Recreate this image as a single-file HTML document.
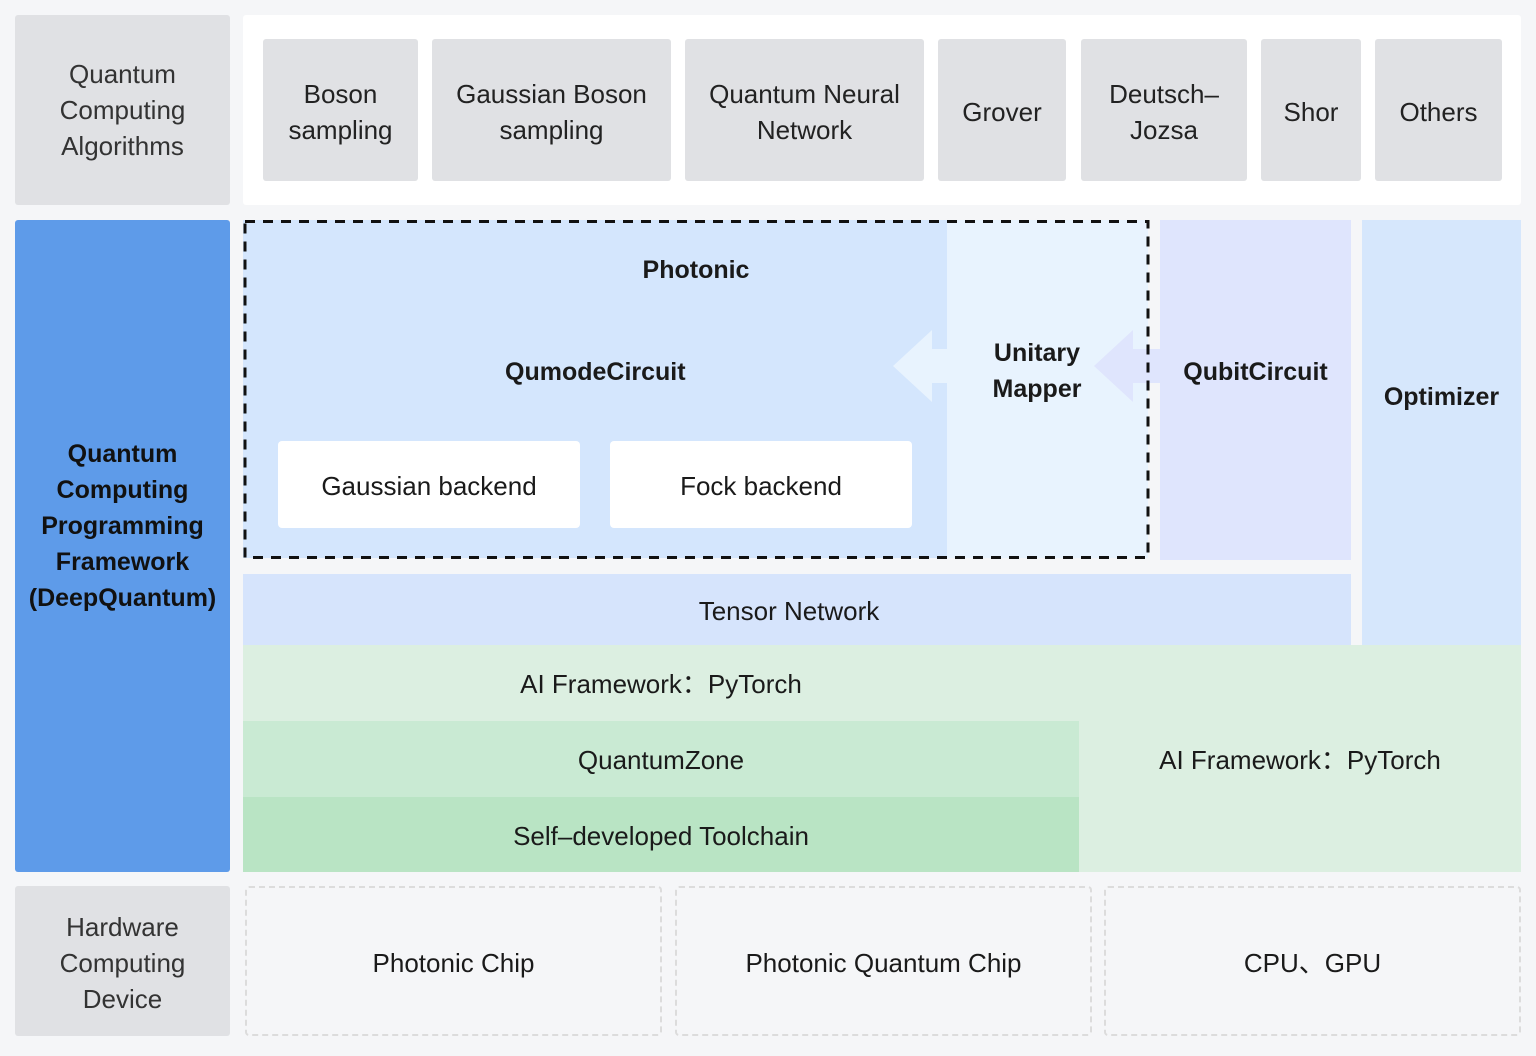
<!DOCTYPE html>
<html><head><meta charset="utf-8"><style>
body{margin:0;width:1536px;height:1056px;background:#f5f6f8;position:relative;overflow:hidden;font-family:"Liberation Sans","Noto Sans CJK SC",sans-serif;color:#1a1a1a}
.b{position:absolute;display:flex;align-items:center;justify-content:center;text-align:center;font-size:26px;line-height:36px;box-sizing:border-box}
.g{background:#e0e1e4;border-radius:3px;color:#222}
.w{background:#fff;border-radius:4px}
.bold{font-weight:bold;font-size:25px}
.d{border:2px dashed #dcdcdc;border-radius:4px}
</style></head><body>
<div class="b g" style="left:15px;top:15px;width:215px;height:190px;color:#333">Quantum<br>Computing<br>Algorithms</div>
<div class="b" style="left:243px;top:15px;width:1278px;height:190px;background:#fff;border-radius:3px"></div>
<div class="b g" style="left:263px;top:39px;width:155px;height:142px;padding-top:4px">Boson<br>sampling</div>
<div class="b g" style="left:432px;top:39px;width:239px;height:142px;padding-top:4px">Gaussian Boson<br>sampling</div>
<div class="b g" style="left:685px;top:39px;width:239px;height:142px;padding-top:4px">Quantum Neural<br>Network</div>
<div class="b g" style="left:938px;top:39px;width:128px;height:142px;padding-top:4px">Grover</div>
<div class="b g" style="left:1081px;top:39px;width:166px;height:142px;padding-top:4px">Deutsch–<br>Jozsa</div>
<div class="b g" style="left:1261px;top:39px;width:100px;height:142px;padding-top:4px">Shor</div>
<div class="b g" style="left:1375px;top:39px;width:127px;height:142px;padding-top:4px">Others</div>

<div class="b bold" style="left:15px;top:220px;width:215px;height:652px;background:#5e9be9;border-radius:3px;color:#111;padding-bottom:40px">Quantum<br>Computing<br>Programming<br>Framework<br>(DeepQuantum)</div>

<div class="b" style="left:243px;top:220px;width:704px;height:338px;background:#d4e6fd"></div>
<div class="b" style="left:947px;top:220px;width:201px;height:338px;background:#e8f3fe"></div>
<div class="b bold" style="left:243px;top:250px;width:906px;height:40px">Photonic</div>
<div class="b bold" style="left:243px;top:352px;width:704px;height:40px;justify-content:flex-start;padding-left:262px">QumodeCircuit</div>
<div class="b bold" style="left:947px;top:335px;width:180px;height:72px">Unitary<br>Mapper</div>
<svg style="position:absolute;left:0;top:0" width="1536" height="1056">
<polygon points="893,366 932,330 932,349 947,349 947,383 932,383 932,402" fill="#e8f3fe"/>
<polygon points="1094,366 1133,330 1133,349 1160,349 1160,383 1133,383 1133,402" fill="#dfe5fd"/>
<rect x="245" y="221.5" width="903" height="336" fill="none" stroke="#111" stroke-width="3" stroke-dasharray="10,8"/>
</svg>
<div class="b w" style="left:278px;top:441px;width:302px;height:87px;padding-top:2px">Gaussian backend</div>
<div class="b w" style="left:610px;top:441px;width:302px;height:87px;padding-top:2px">Fock backend</div>
<div class="b bold" style="left:1160px;top:220px;width:191px;height:340px;background:#dfe5fd;padding-bottom:36px">QubitCircuit</div>
<div class="b bold" style="left:1362px;top:220px;width:159px;height:425px;background:#d6e7fc;padding-bottom:72px;padding-left:0px">Optimizer</div>
<div class="b" style="left:243px;top:574px;width:1108px;height:71px;background:#d6e4fc;padding-right:16px;padding-top:2px">Tensor Network</div>
<div class="b" style="left:243px;top:645px;width:1278px;height:227px;background:#dcefe1"></div>
<div class="b" style="left:243px;top:648px;width:836px;height:72px">AI Framework：PyTorch</div>
<div class="b" style="left:243px;top:721px;width:836px;height:76px;background:#c9ead3;padding-top:2px">QuantumZone</div>
<div class="b" style="left:243px;top:797px;width:836px;height:75px;background:#b9e4c4;padding-top:2px">Self–developed Toolchain</div>
<div class="b" style="left:1079px;top:722px;width:442px;height:76px">AI Framework：PyTorch</div>

<div class="b g" style="left:15px;top:886px;width:215px;height:150px;color:#333;padding-top:4px">Hardware<br>Computing<br>Device</div>
<div class="b d" style="left:245px;top:886px;width:417px;height:150px;padding-top:4px">Photonic Chip</div>
<div class="b d" style="left:675px;top:886px;width:417px;height:150px;padding-top:4px">Photonic Quantum Chip</div>
<div class="b d" style="left:1104px;top:886px;width:417px;height:150px;padding-top:4px">CPU、GPU</div>
</body></html>
